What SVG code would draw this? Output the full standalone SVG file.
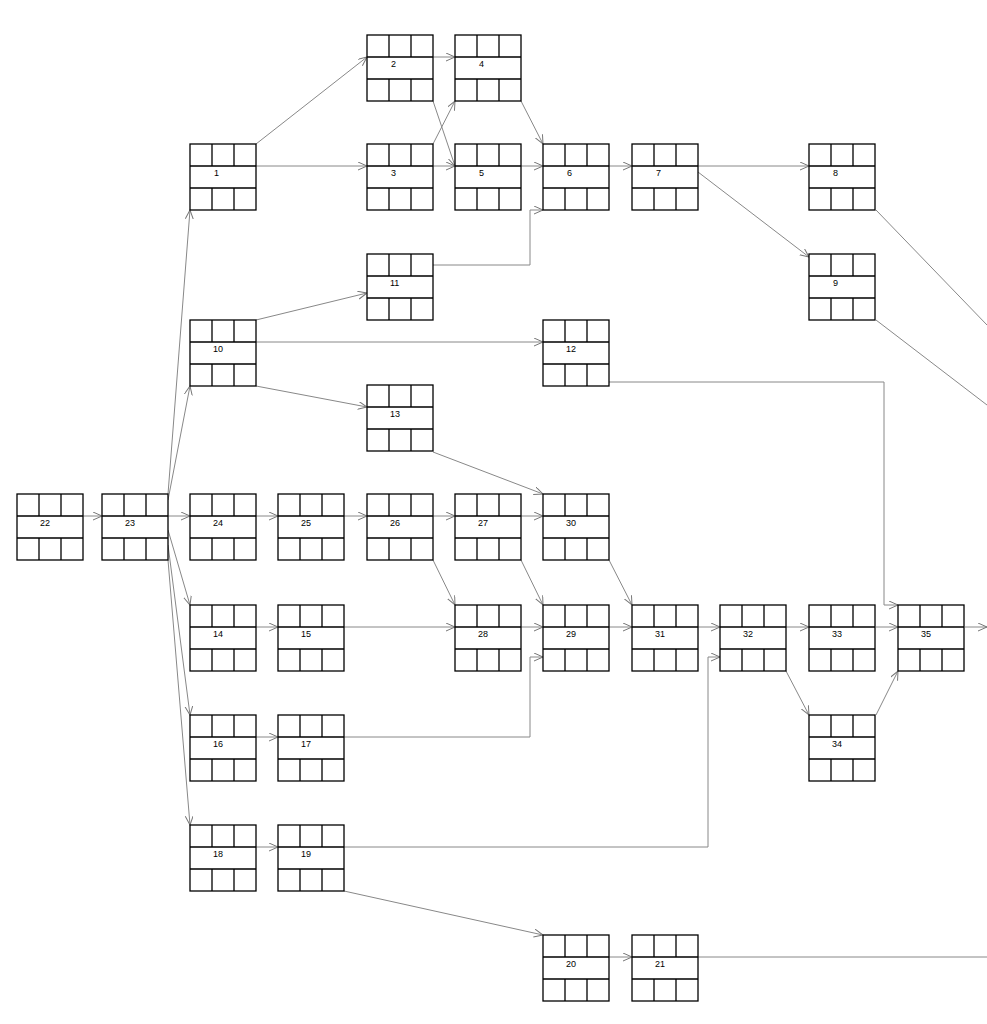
<svg xmlns="http://www.w3.org/2000/svg" width="987" height="1024" viewBox="0 0 987 1024">
<style>
.b{fill:#fff;stroke:#000;stroke-width:1.3}
.g{stroke:#000;stroke-width:1.3}
.t{font-family:"Liberation Sans",Arial,sans-serif;font-size:9px;fill:#000}
.c path{fill:none;stroke:#888;stroke-width:1;marker-end:url(#a)}
</style>
<defs>
<marker id="a" markerWidth="10" markerHeight="10" refX="9" refY="4" orient="auto" markerUnits="userSpaceOnUse"><path d="M0,0 L9,4 L0,8" fill="none" stroke="#777" stroke-width="1"/></marker>
<g id="n"><rect class="b" width="66" height="66"/><path class="g" d="M0,22H66M0,44H66M22,0V22M44,0V22M22,44V66M44,44V66"/></g>
</defs>
<g class="c">
<path d="M83,516H102"/>
<path d="M168,494L190,210"/>
<path d="M168,500L190,386"/>
<path d="M168,516H190"/>
<path d="M168,530L190,605"/>
<path d="M168,545L190,715"/>
<path d="M168,560L190,825"/>
<path d="M256,144L367,57"/>
<path d="M256,166H367"/>
<path d="M433,57H455"/>
<path d="M433,101L455,166"/>
<path d="M433,144L455,101"/>
<path d="M433,166H455"/>
<path d="M521,101L543,144"/>
<path d="M521,166H543"/>
<path d="M609,166H632"/>
<path d="M698,166H809"/>
<path d="M698,172L809,257"/>
<path d="M876,210L987,325" style="marker-end:none"/>
<path d="M876,320L987,405" style="marker-end:none"/>
<path d="M433,265H530V210H543"/>
<path d="M256,320L367,293"/>
<path d="M256,342H543"/>
<path d="M256,386L367,407"/>
<path d="M609,382H884V605H898"/>
<path d="M433,452L543,494"/>
<path d="M256,516H278"/>
<path d="M344,516H367"/>
<path d="M433,516H455"/>
<path d="M521,516H543"/>
<path d="M433,560L455,605"/>
<path d="M521,560L543,605"/>
<path d="M609,560L632,605"/>
<path d="M256,627H278"/>
<path d="M344,627H455"/>
<path d="M521,627H543"/>
<path d="M609,627H632"/>
<path d="M698,627H720"/>
<path d="M786,627H809"/>
<path d="M876,627H898"/>
<path d="M965,627H987"/>
<path d="M786,671L809,715"/>
<path d="M876,715L898,671"/>
<path d="M256,737H278"/>
<path d="M344,737H530V657H543"/>
<path d="M256,847H278"/>
<path d="M344,847H708V657H720"/>
<path d="M344,891L543,935"/>
<path d="M609,957H632"/>
<path d="M698,957H987" style="marker-end:none"/>
</g>
<g id="n22"><use href="#n" x="17" y="494"/><text class="t" x="40" y="526">22</text></g>
<g id="n23"><use href="#n" x="102" y="494"/><text class="t" x="125" y="526">23</text></g>
<g id="n1"><use href="#n" x="190" y="144"/><text class="t" x="214" y="176">1</text></g>
<g id="n2"><use href="#n" x="367" y="35"/><text class="t" x="391" y="67">2</text></g>
<g id="n4"><use href="#n" x="455" y="35"/><text class="t" x="479" y="67">4</text></g>
<g id="n3"><use href="#n" x="367" y="144"/><text class="t" x="391" y="176">3</text></g>
<g id="n5"><use href="#n" x="455" y="144"/><text class="t" x="479" y="176">5</text></g>
<g id="n6"><use href="#n" x="543" y="144"/><text class="t" x="567" y="176">6</text></g>
<g id="n7"><use href="#n" x="632" y="144"/><text class="t" x="656" y="176">7</text></g>
<g id="n8"><use href="#n" x="809" y="144"/><text class="t" x="833" y="176">8</text></g>
<g id="n9"><use href="#n" x="809" y="254"/><text class="t" x="833" y="286">9</text></g>
<g id="n11"><use href="#n" x="367" y="254"/><text class="t" x="390" y="286">11</text></g>
<g id="n10"><use href="#n" x="190" y="320"/><text class="t" x="213" y="352">10</text></g>
<g id="n12"><use href="#n" x="543" y="320"/><text class="t" x="566" y="352">12</text></g>
<g id="n13"><use href="#n" x="367" y="385"/><text class="t" x="390" y="417">13</text></g>
<g id="n24"><use href="#n" x="190" y="494"/><text class="t" x="213" y="526">24</text></g>
<g id="n25"><use href="#n" x="278" y="494"/><text class="t" x="301" y="526">25</text></g>
<g id="n26"><use href="#n" x="367" y="494"/><text class="t" x="390" y="526">26</text></g>
<g id="n27"><use href="#n" x="455" y="494"/><text class="t" x="478" y="526">27</text></g>
<g id="n30"><use href="#n" x="543" y="494"/><text class="t" x="566" y="526">30</text></g>
<g id="n14"><use href="#n" x="190" y="605"/><text class="t" x="213" y="637">14</text></g>
<g id="n15"><use href="#n" x="278" y="605"/><text class="t" x="301" y="637">15</text></g>
<g id="n28"><use href="#n" x="455" y="605"/><text class="t" x="478" y="637">28</text></g>
<g id="n29"><use href="#n" x="543" y="605"/><text class="t" x="566" y="637">29</text></g>
<g id="n31"><use href="#n" x="632" y="605"/><text class="t" x="655" y="637">31</text></g>
<g id="n32"><use href="#n" x="720" y="605"/><text class="t" x="743" y="637">32</text></g>
<g id="n33"><use href="#n" x="809" y="605"/><text class="t" x="832" y="637">33</text></g>
<g id="n35"><use href="#n" x="898" y="605"/><text class="t" x="921" y="637">35</text></g>
<g id="n34"><use href="#n" x="809" y="715"/><text class="t" x="832" y="747">34</text></g>
<g id="n16"><use href="#n" x="190" y="715"/><text class="t" x="213" y="747">16</text></g>
<g id="n17"><use href="#n" x="278" y="715"/><text class="t" x="301" y="747">17</text></g>
<g id="n18"><use href="#n" x="190" y="825"/><text class="t" x="213" y="857">18</text></g>
<g id="n19"><use href="#n" x="278" y="825"/><text class="t" x="301" y="857">19</text></g>
<g id="n20"><use href="#n" x="543" y="935"/><text class="t" x="566" y="967">20</text></g>
<g id="n21"><use href="#n" x="632" y="935"/><text class="t" x="655" y="967">21</text></g>
</svg>
